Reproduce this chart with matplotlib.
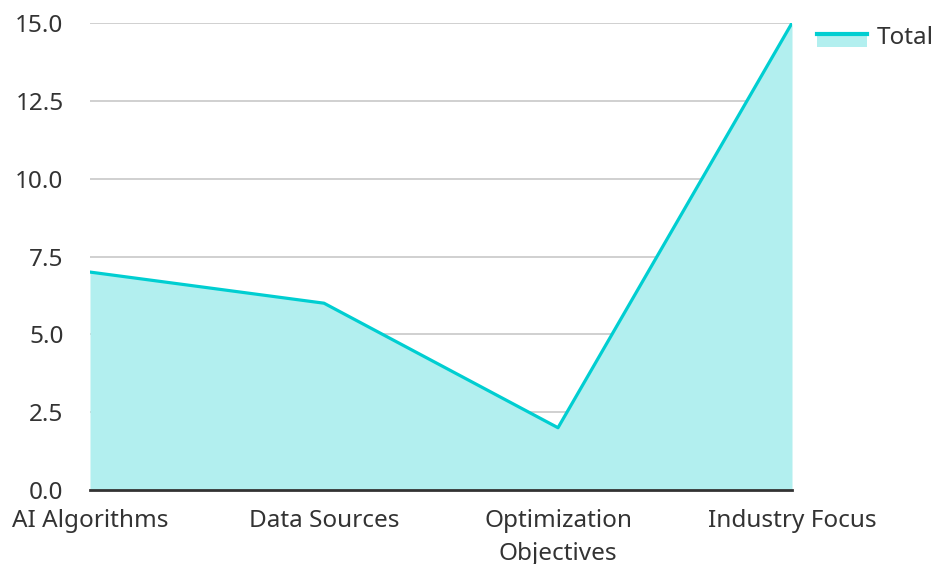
import matplotlib.pyplot as plt
from matplotlib.lines import Line2D
from matplotlib.patches import Rectangle
from matplotlib.legend_handler import HandlerBase

categories = ["AI Algorithms", "Data Sources", "Optimization\nObjectives", "Industry Focus"]
totals = [7, 6, 2, 15]
yticks = [0.0, 2.5, 5.0, 7.5, 10.0, 12.5, 15.0]

line_color = "#00CED1"
fill_color = "#B2EFEF"
text_color = "#333333"

plt.rcParams['font.family'] = ['Noto Sans', 'DejaVu Sans']


class AreaHandler(HandlerBase):
    # filled box with the line along its top edge
    def create_artists(self, legend, orig_handle, xdescent, ydescent,
                       width, height, fontsize, trans):
        x0, y0 = -xdescent, -ydescent
        rect = Rectangle((x0, y0 - 0.2 * height), width, 0.88 * height,
                         facecolor=fill_color, edgecolor='none', transform=trans)
        ly = y0 + 0.6 * height
        line = Line2D([x0, x0 + width], [ly, ly], color=line_color,
                      linewidth=3, transform=trans)
        return [rect, line]


fig = plt.figure(figsize=(9.34, 5.64), dpi=100)
ax = fig.add_axes([90 / 934, 1 - 490 / 564, 702 / 934, 467 / 564])

x = list(range(len(categories)))
ax.fill_between(x, 0, totals, color=fill_color, linewidth=0, zorder=1)
ax.plot(x, totals, color=line_color, linewidth=2.3, zorder=3)

ax.set_xlim(0, len(categories) - 1)
ax.set_ylim(0, 15)
ax.set_yticks(yticks)
ax.set_yticklabels([f"{v:.1f}" for v in yticks])
ax.set_xticks(x)
ax.set_xticklabels(categories, linespacing=1.45)
ax.tick_params(axis='both', length=0, labelsize=17.5, colors=text_color)
ax.tick_params(axis='y', pad=19)
ax.tick_params(axis='x', pad=14)

ax.grid(axis='y', color="#c8c8c8", linewidth=1.2, zorder=0)
ax.set_axisbelow(True)
for s in ["top", "right", "left"]:
    ax.spines[s].set_visible(False)
ax.spines["bottom"].set_color(text_color)
ax.spines["bottom"].set_linewidth(2)
ax.spines["bottom"].set_zorder(4)

leg = fig.legend([object()], ["Total"], handler_map={object: AreaHandler()},
                 loc="upper left", bbox_to_anchor=(817 / 934, 1 - 26 / 564),
                 frameon=False, fontsize=17.5, borderpad=0, borderaxespad=0,
                 handlelength=2.05, handletextpad=0.42)
for t in leg.get_texts():
    t.set_color(text_color)

fig.savefig("out.png", dpi=100)
